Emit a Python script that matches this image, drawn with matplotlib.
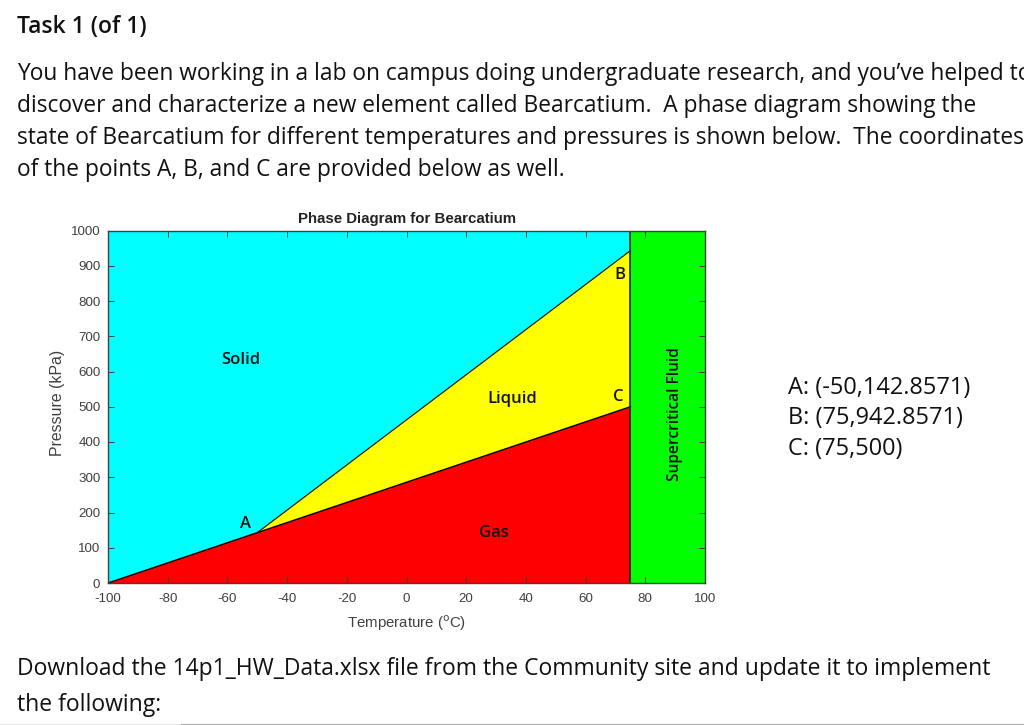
import matplotlib
matplotlib.use('Agg')
import matplotlib.pyplot as plt

plt.rcParams['axes.unicode_minus'] = False

W, H = 1024, 725

# Points du diagramme
point_a = (-50, 142.8571)
point_b = (75, 942.8571)
point_c = (75, 500)
origin = (-100, 0)
x_min, x_max = -100, 100
y_min, y_max = 0, 1000

x_ticks = [-100, -80, -60, -40, -20, 0, 20, 40, 60, 80, 100]
y_ticks = [0, 100, 200, 300, 400, 500, 600, 700, 800, 900, 1000]

intro_lines = [
    "You have been working in a lab on campus doing undergraduate research, and you\u2019ve helped to",
    "discover and characterize a new element called Bearcatium.  A phase diagram showing the",
    "state of Bearcatium for different temperatures and pressures is shown below.  The coordinates",
    "of the points A, B, and C are provided below as well.",
]
intro_y = [74, 106, 138, 170]
outro_lines = [
    "Download the 14p1_HW_Data.xlsx file from the Community site and update it to implement",
    "the following:",
]
outro_y = [669, 705]
coord_lines = ["A: (-50,142.8571)", "B: (75,942.8571)", "C: (75,500)"]
coord_y = [388, 418, 449]

fig = plt.figure(figsize=(W / 100, H / 100), dpi=100)


def page_text(px, py, s, **kw):
    kw.setdefault('family', 'Open Sans')
    kw.setdefault('va', 'center')
    kw.setdefault('color', '#111111')
    fig.text(px / W, 1 - py / H, s, **kw)


page_text(17, 27, "Task 1 (of 1)", fontsize=16.5, fontweight='semibold')
for line, y in zip(intro_lines, intro_y):
    page_text(17, y, line, fontsize=16.4)
for line, y in zip(outro_lines, outro_y):
    page_text(17, y, line, fontsize=16.45)
for line, y in zip(coord_lines, coord_y):
    page_text(788, y, line, fontsize=16.9)

# Filet gris en bas de la page
fig.add_artist(plt.Line2D([0, 182 / W], [0.5 / H, 0.5 / H], color='#e4e4e4', lw=1.5))
fig.add_artist(plt.Line2D([182 / W, 1], [0.5 / H, 0.5 / H], color='#a8a8a8', lw=1.5))

# Axes placees en pixels
left, right, top, bottom = 108, 705, 230.5, 583
ax = fig.add_axes([left / W, 1 - bottom / H, (right - left) / W, (bottom - top) / H])

ax.fill([x_min, x_min, point_b[0], point_b[0], point_a[0], origin[0]],
        [y_min, y_max, y_max, point_b[1], point_a[1], origin[1]],
        facecolor='#00ffff', edgecolor='none', zorder=1)
ax.fill([point_a[0], point_b[0], point_c[0]],
        [point_a[1], point_b[1], point_c[1]],
        facecolor='#ffff00', edgecolor='none', zorder=1)
ax.fill([origin[0], point_c[0], point_c[0]],
        [origin[1], point_c[1], y_min],
        facecolor='#ff0000', edgecolor='none', zorder=1)
ax.fill([point_c[0], x_max, x_max, point_c[0]],
        [y_min, y_min, y_max, y_max],
        facecolor='#00ff00', edgecolor='none', zorder=1)

ax.plot([origin[0], point_c[0]], [origin[1], point_c[1]], color='black', lw=1.0, zorder=2)
ax.plot([point_a[0], point_b[0]], [point_a[1], point_b[1]], color='black', lw=0.8, zorder=2)
ax.plot([point_c[0], point_c[0]], [y_min, y_max], color='#222222', lw=1.2, zorder=2)

ax.set_xlim(x_min, x_max)
ax.set_ylim(y_min, y_max)
ax.set_xticks(x_ticks)
ax.set_yticks(y_ticks)
ax.tick_params(direction='in', top=True, right=True, length=4.5, width=0.7, color='#404040',
               labelcolor='#404040', labelsize=9.6)
ax.tick_params(axis='x', pad=7)
ax.tick_params(axis='y', pad=5.5)
for label in ax.get_xticklabels() + ax.get_yticklabels():
    label.set_family('Liberation Sans')
    label.set_zorder(5)
for side in ax.spines.values():
    side.set_color('#404040')
    side.set_linewidth(1.0)
    side.set_zorder(4)

ax.set_title("Phase Diagram for Bearcatium", family='Liberation Sans', fontsize=10.8,
             fontweight='bold', color='#222222', pad=5.5)
ax.set_xlabel("Temperature ($^{\\mathrm{o}}$C)", family='Liberation Sans', fontsize=10.8,
              color='#404040', labelpad=6.5)
ax.set_ylabel("Pressure (kPa)", family='Liberation Sans', fontsize=11.4, color='#404040')
ax.yaxis.set_label_coords((65 - left) / (right - left), 0.51)
ax.set_axisbelow(False)

# Etiquettes dans le diagramme
labels = [("Solid", -55.4, 632, 0, 12), ("Liquid", 35.5, 522, 0, 12), ("Gas", 29.3, 143, 0, 12),
          ("A", -54, 167, 0, 12), ("B", 71.5, 873, 0, 12), ("C", 71, 527, 0, 12),
          ("Supercritical Fluid", 89.9, 479, 90, 11.2)]
for txt, x, y, rot, size in labels:
    ax.text(x, y, txt, family='Open Sans', fontsize=size, fontweight='semibold', color='#111111',
            ha='center', va='center', rotation=rot, zorder=5)

fig.savefig('out.png', dpi=100)
plt.close('all')
